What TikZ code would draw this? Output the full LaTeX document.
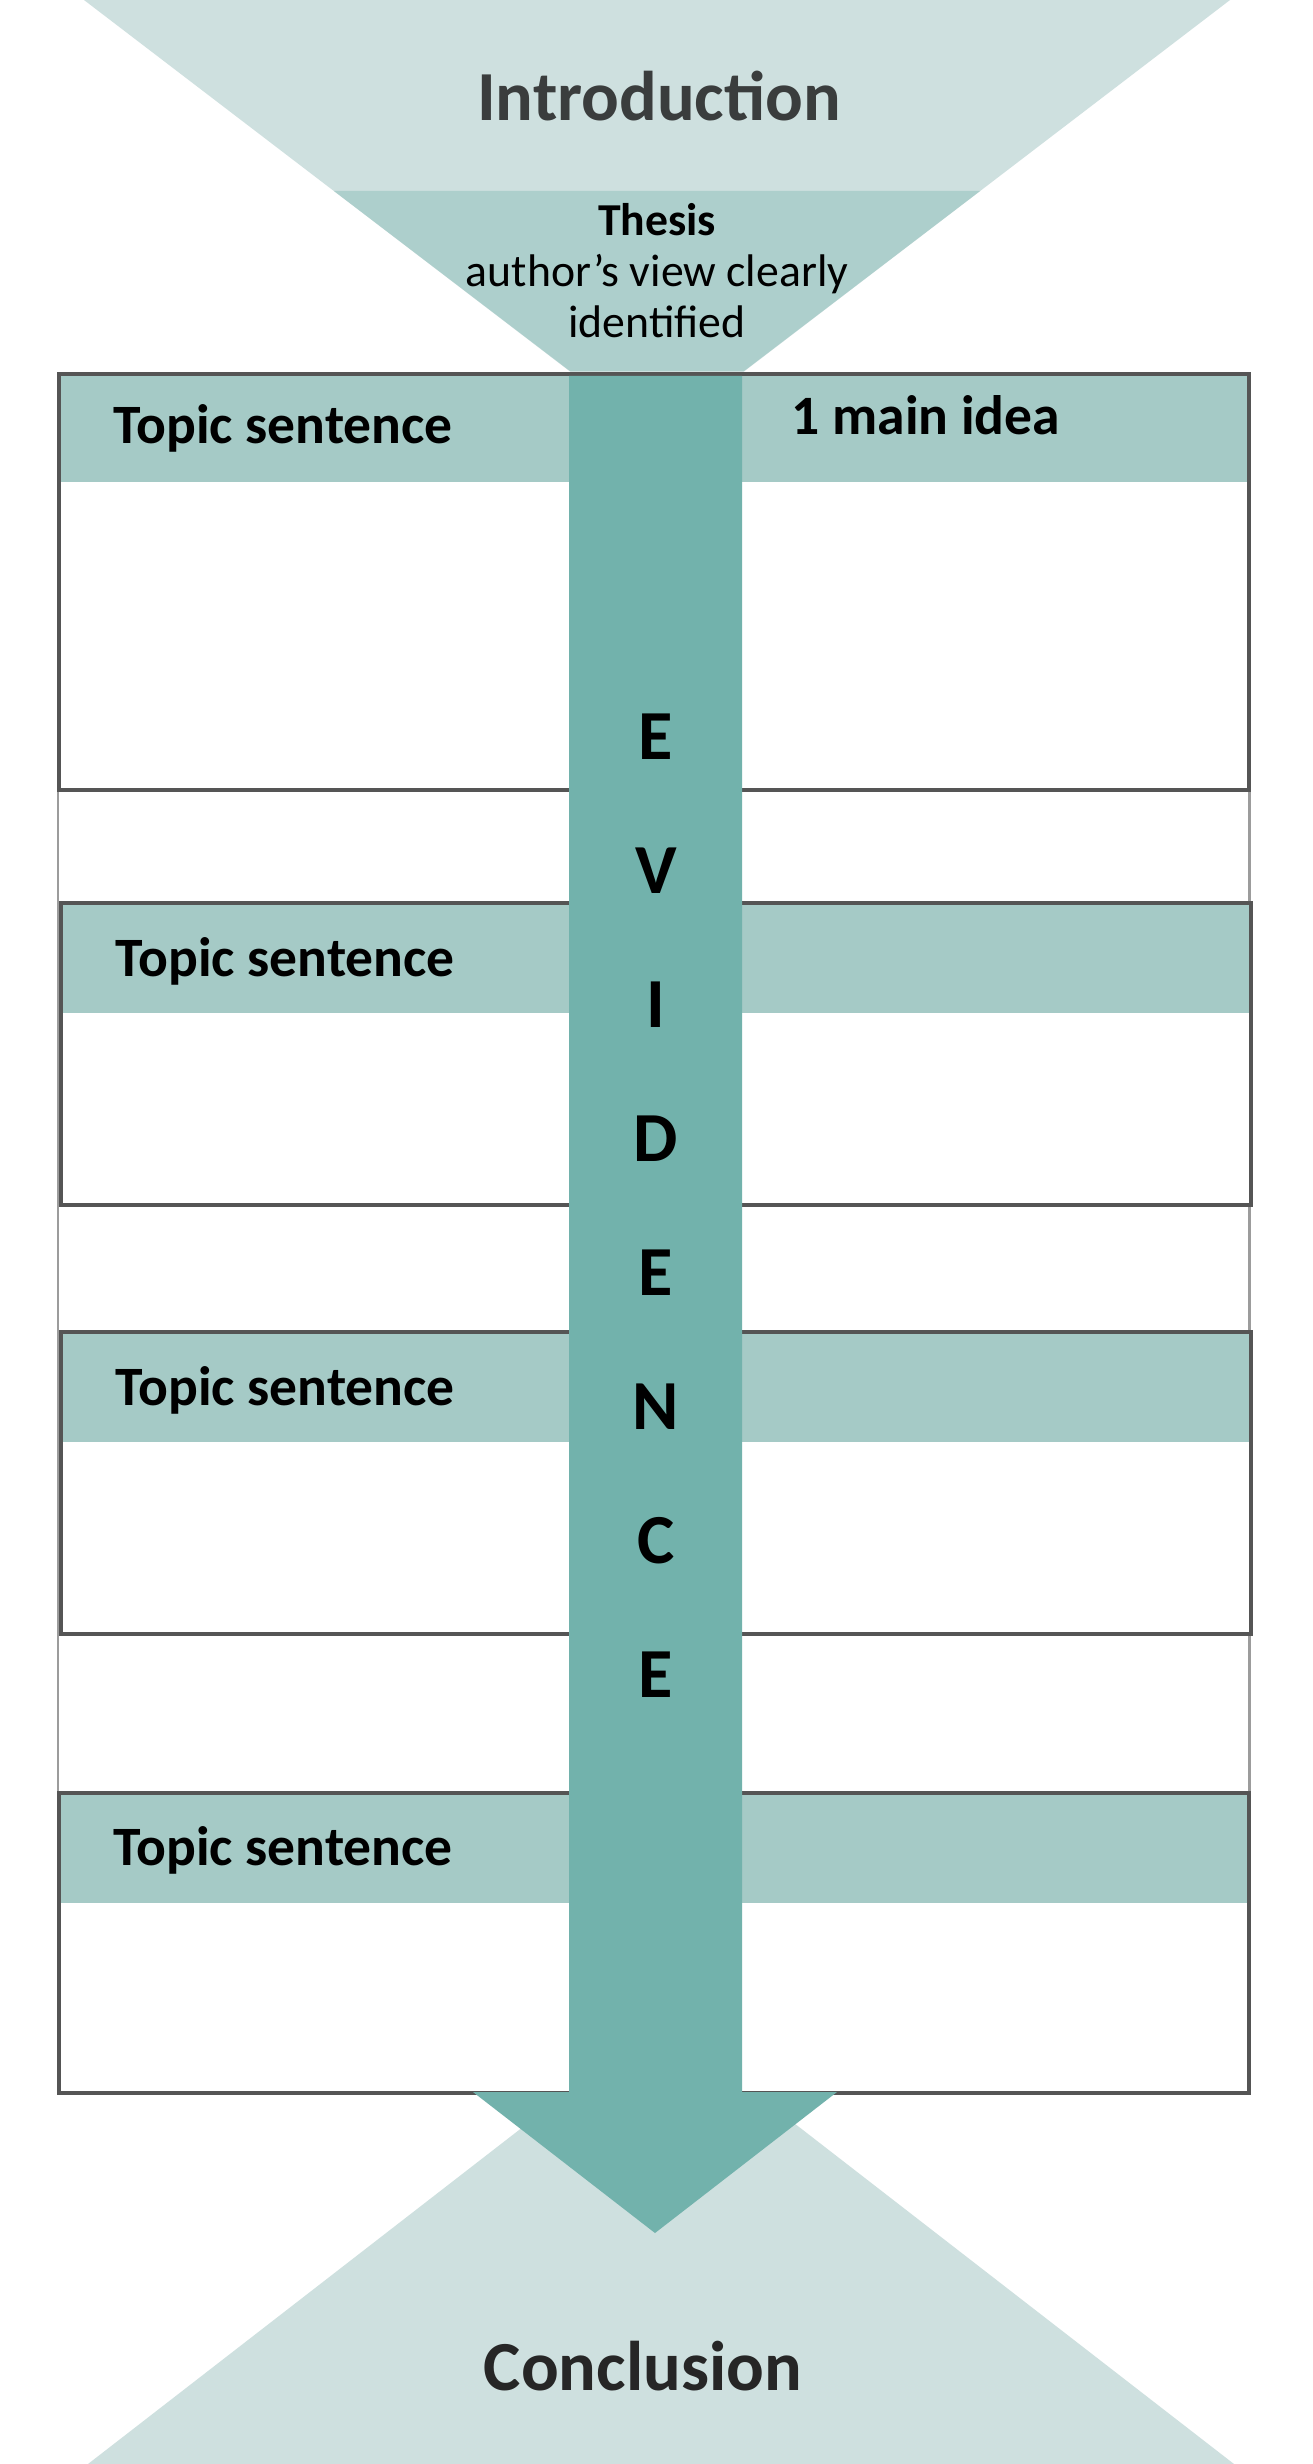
\documentclass[tikz,border=0pt]{standalone}
\usepackage{fontspec}
\setmainfont{Carlito}

\definecolor{pale}{HTML}{CEE0DF}
\definecolor{thesisbg}{HTML}{ADCFCC}
\definecolor{headbg}{HTML}{A5CAC6}
\definecolor{evid}{HTML}{72B2AC}
\definecolor{frame}{HTML}{555555}
\definecolor{gapline}{HTML}{9C9C9C}
\definecolor{titlegray}{HTML}{3A3D3D}

\tikzset{
  boxline/.style={draw=frame,line width=1.15pt},
  letter/.style={font=\fontsize{20}{24}\selectfont\bfseries,text=black,inner sep=0pt,anchor=base},
  topic/.style={font=\fontsize{15.8}{18}\selectfont\bfseries,text=black,inner sep=0pt,anchor=base west},
  title/.style={font=\fontsize{20}{24}\selectfont\bfseries,text=titlegray,inner sep=0pt,anchor=base},
}

\begin{document}
\begin{tikzpicture}[x=0.01cm,y=-0.01cm]

        \fill[white] (0,0) rectangle (1312,2464);
        \useasboundingbox (0,0) rectangle (1312,2464);

        % funnel in and out
        \fill[pale] (84,0) -- (1230,0) -- (657,438) -- cycle;
        \fill[thesisbg] (334,191) -- (980,191) -- (744,371) -- (570,371) -- cycle;
        \fill[pale] (88,2464) -- (1234,2464) -- (661,2020) -- cycle;

        % thin lines between the paragraphs
        \draw[gapline,line width=.85pt] (58,790) -- (58,1794);
        \draw[gapline,line width=.85pt] (1249,790) -- (1249,1794);

        % paragraphs
        \fill[white] (59,374) rectangle (1249,790);
        \fill[headbg] (59,374) rectangle (1249,482);
        \draw[boxline] (59,374) rectangle (1249,790);

        \fill[white] (61,903) rectangle (1251,1205);
        \fill[headbg] (61,903) rectangle (1251,1013);
        \draw[boxline] (61,903) rectangle (1251,1205);

        \fill[white] (61,1332) rectangle (1251,1634);
        \fill[headbg] (61,1332) rectangle (1251,1442);
        \draw[boxline] (61,1332) rectangle (1251,1634);

        \fill[white] (59,1793) rectangle (1249,2093);
        \fill[headbg] (59,1793) rectangle (1249,1903);
        \draw[boxline] (59,1793) rectangle (1249,2093);

        % evidence arrow
        \fill[evid] (569,376) -- (569,2092) -- (473,2092) -- (655,2233)
          -- (837,2092) -- (742,2092) -- (742,376) -- cycle;

        \node[title] (intro) at (659,121) {Introduction};
        \node[title,text=black!85] (concl) at (643,2390) {Conclusion};

        \node[font=\fontsize{13}{14.6}\selectfont,align=center,inner sep=0pt,anchor=base]
          (thesis) at (657,338) {\textbf{Thesis}\\author’s view clearly\\identified};

        \begin{scope}[every node/.style={topic}]
          \node (t1) at (113,443) {Topic sentence};
          \node (t2) at (115,976) {Topic sentence};
          \node (t3) at (115,1405) {Topic sentence};
          \node (t4) at (113,1865) {Topic sentence};
          \node (idea) at (791,435) {1 main idea};
        \end{scope}

        \begin{scope}[every node/.style={letter}]
          \node (e1) at (656,759)  {E};
          \node (v)  at (656,893)  {V};
          \node (i)  at (656,1027) {I};
          \node (d)  at (656,1161) {D};
          \node (e2) at (656,1295) {E};
          \node (n)  at (656,1429) {N};
          \node (c)  at (656,1563) {C};
          \node (e3) at (656,1697) {E};
        \end{scope}

      \end{tikzpicture}
\end{document}
